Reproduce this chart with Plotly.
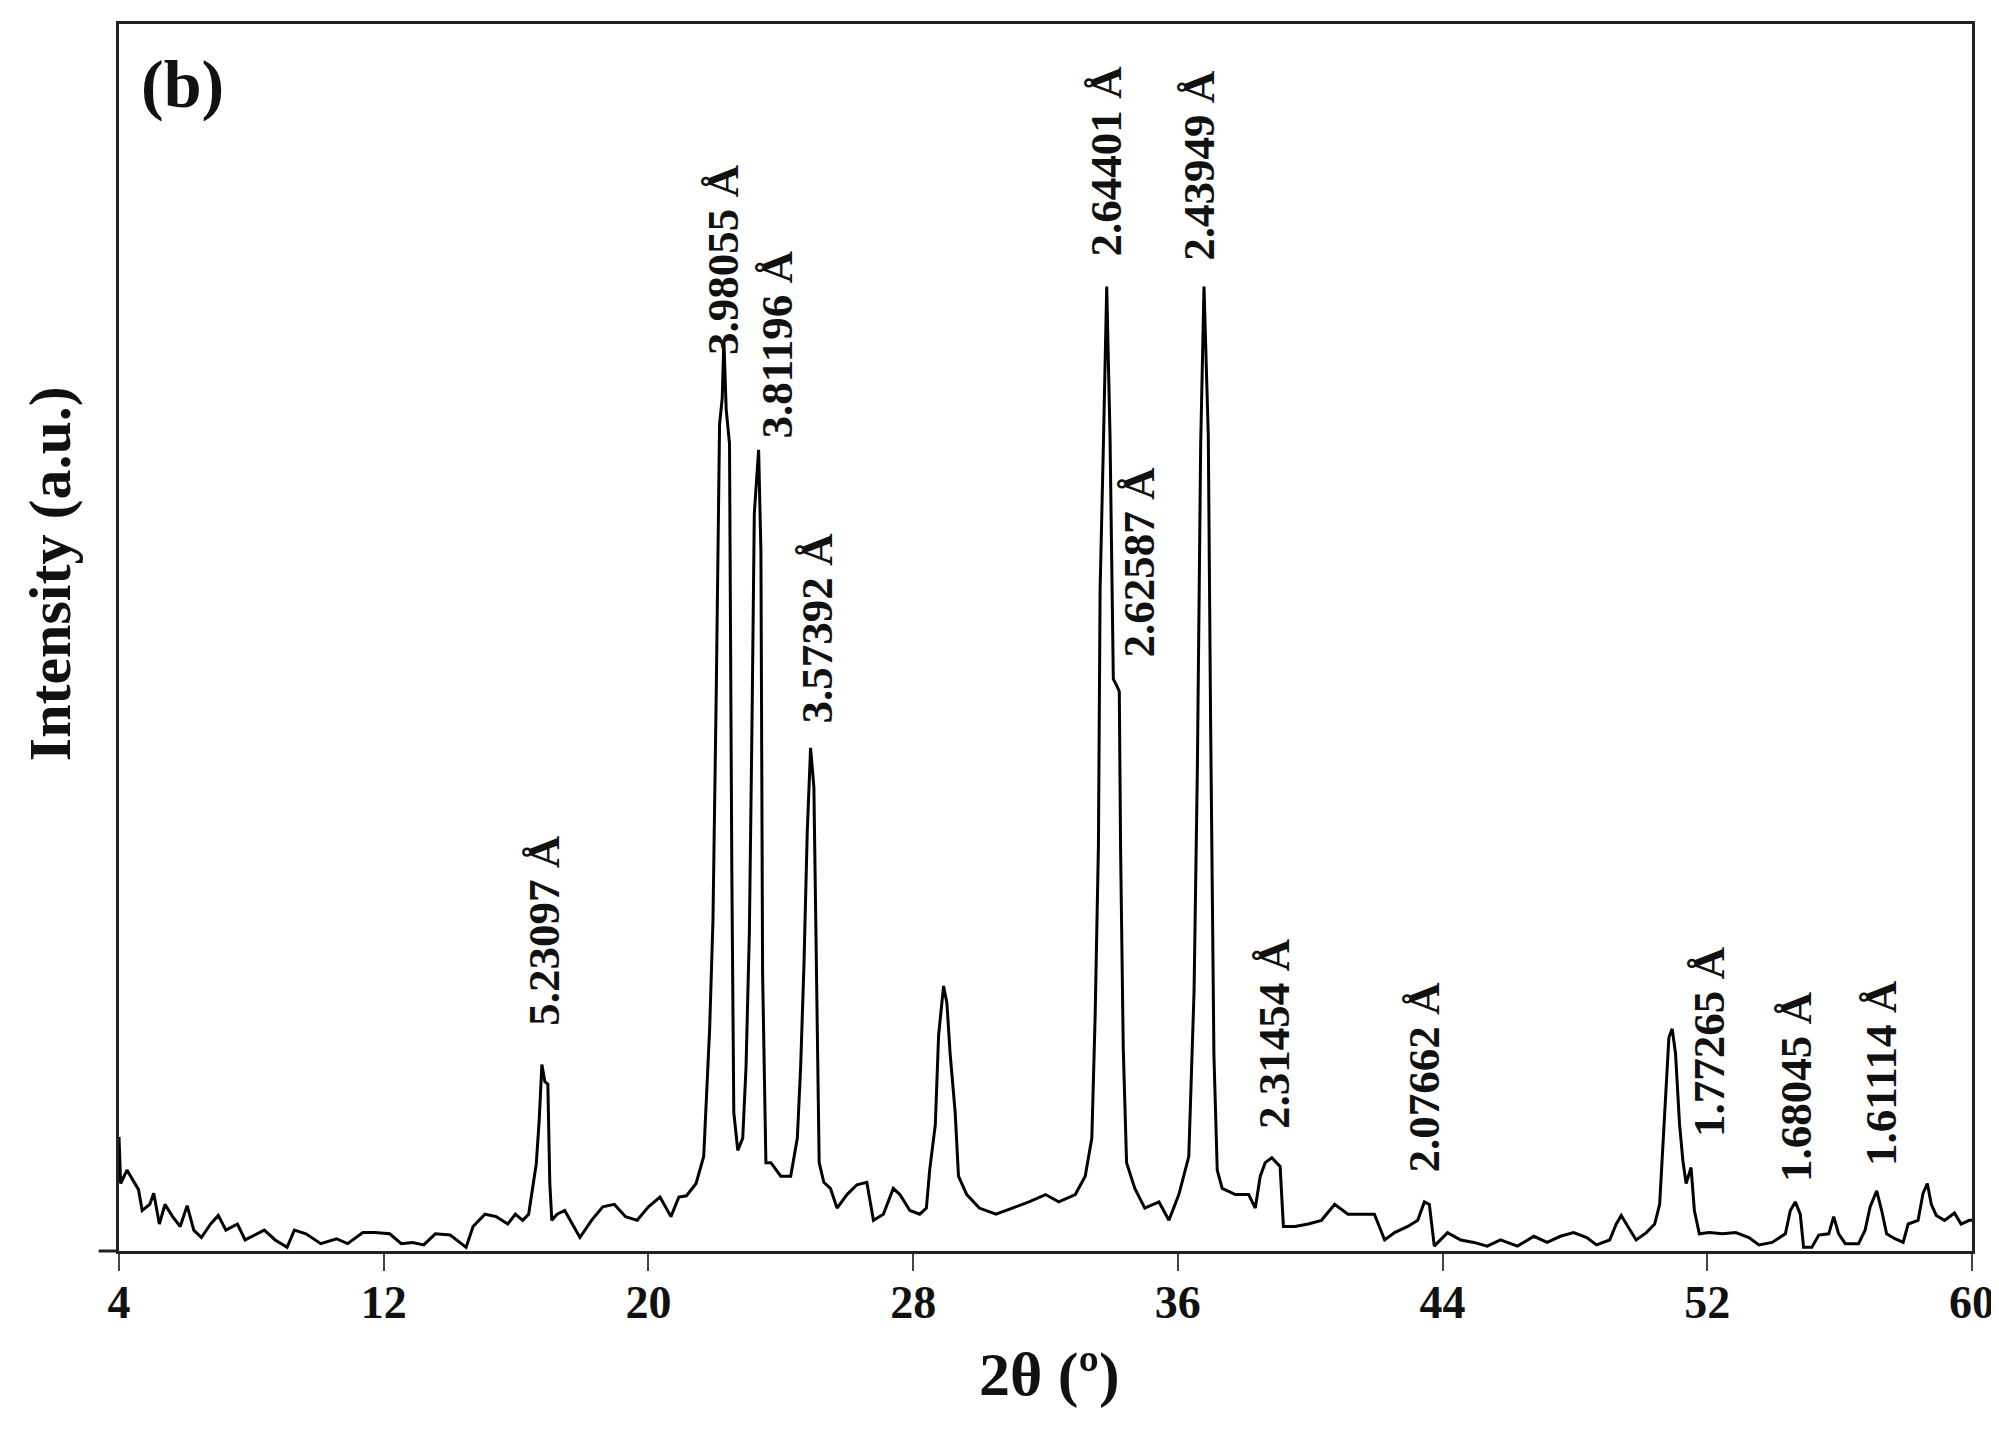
import plotly.graph_objects as go

# --- data (2theta in degrees, intensity as % of axis height) ---
two_theta = [
    4.00, 4.05, 4.24, 4.59, 4.70, 4.93, 5.05, 5.22, 5.39, 5.62, 5.85, 6.06, 6.26, 6.49,
    6.77, 7.00, 7.23, 7.58, 7.81, 8.15, 8.39, 8.72, 9.08, 9.30, 9.65, 10.10, 10.57, 10.91,
    11.37, 11.73, 12.18, 12.53, 12.87, 13.21, 13.56, 14.01, 14.49, 14.70, 15.06, 15.40,
    15.75, 15.98, 16.20, 16.38, 16.49, 16.61, 16.70, 16.78, 16.87, 16.96, 17.02, 17.08,
    17.24, 17.47, 17.70, 17.93, 18.28, 18.62, 18.97, 19.31, 19.66, 20.00, 20.35, 20.68,
    20.92, 21.15, 21.44, 21.67, 21.85, 21.95, 22.05, 22.15, 22.23, 22.28, 22.35, 22.45,
    22.52, 22.58, 22.70, 22.85, 22.95, 23.05, 23.13, 23.20, 23.33, 23.40, 23.45, 23.55,
    23.70, 24.00, 24.30, 24.50, 24.60, 24.70, 24.80, 24.90, 25.00, 25.08, 25.16, 25.30,
    25.50, 25.70, 26.00, 26.30, 26.60, 26.80, 27.10, 27.40, 27.60, 27.90, 28.20, 28.40,
    28.50, 28.67, 28.77, 28.92, 29.02, 29.12, 29.27, 29.37, 29.62, 30.00, 30.50, 31.00,
    31.50, 32.00, 32.40, 32.90, 33.20, 33.40, 33.50, 33.60, 33.65, 33.75, 33.85, 33.95,
    34.05, 34.15, 34.23, 34.27, 34.35, 34.45, 34.70, 35.00, 35.43, 35.73, 36.03, 36.33,
    36.49, 36.59, 36.69, 36.79, 36.92, 36.99, 37.09, 37.19, 37.34, 37.74, 38.14, 38.34,
    38.49, 38.64, 38.84, 39.09, 39.19, 39.54, 39.94, 40.34, 40.74, 41.14, 41.54, 41.94,
    42.25, 42.55, 42.95, 43.25, 43.45, 43.60, 43.75, 44.15, 44.55, 44.95, 45.35, 45.75,
    46.26, 46.76, 47.16, 47.56, 47.96, 48.36, 48.65, 49.05, 49.25, 49.40, 49.60, 49.85,
    50.16, 50.41, 50.56, 50.71, 50.84, 50.94, 51.04, 51.16, 51.26, 51.36, 51.51, 51.61,
    51.76, 52.06, 52.46, 52.86, 53.26, 53.56, 53.96, 54.36, 54.51, 54.66, 54.81, 54.91,
    55.16, 55.37, 55.67, 55.82, 55.97, 56.17, 56.57, 56.77, 56.92, 57.12, 57.27, 57.42,
    57.67, 57.92, 58.07, 58.37, 58.52, 58.65, 58.77, 58.92, 59.17, 59.47, 59.67, 59.92,
    60.00,
]
intensity = [
    9.3, 5.5, 6.6, 5.0, 3.3, 3.8, 4.7, 2.2, 3.8, 2.8, 2.0, 3.7, 1.7, 1.1,
    2.2, 2.9, 1.7, 2.2, 0.9, 1.4, 1.7, 0.9, 0.3, 1.7, 1.4, 0.6, 1.0, 0.6,
    1.5, 1.5, 1.4, 0.6, 0.7, 0.5, 1.4, 1.3, 0.3, 2.0, 3.0, 2.8,
    2.2, 3.0, 2.5, 3.0, 5.0, 7.1, 10.7, 15.2, 13.8, 13.6, 5.5, 2.5,
    3.0, 3.3, 2.2, 1.1, 2.5, 3.6, 3.8, 2.8, 2.5, 3.6, 4.4, 2.8,
    4.4, 4.5, 5.5, 7.7, 18.1, 26.9, 45.6, 67.4, 69.5, 74.2, 68.6, 65.8,
    31.1, 11.3, 8.2, 9.2, 15.0, 25.9, 43.0, 60.1, 65.3, 57.0, 22.7, 7.2,
    7.2, 6.1, 6.1, 9.2, 15.0, 23.3, 34.2, 41.0, 37.8, 20.7, 7.2, 5.6,
    5.1, 3.5, 4.6, 5.4, 5.6, 2.5, 3.0, 5.1, 4.6, 3.3, 3.0, 3.5,
    6.6, 10.3, 17.6, 21.6, 20.2, 16.0, 11.3, 6.1, 4.6, 3.5, 3.0, 3.5,
    4.0, 4.6, 4.0, 4.6, 6.1, 9.2, 19.1, 33.1, 53.9, 65.8, 78.6, 66.4,
    46.6, 46.1, 45.6, 32.6, 16.5, 7.2, 5.1, 3.5, 4.0, 2.5, 4.6, 7.7,
    21.2, 39.4, 65.8, 78.6, 66.4, 43.0, 16.0, 6.6, 5.1, 4.6, 4.6, 3.5,
    6.1, 7.2, 7.6, 6.9, 2.0, 2.0, 2.2, 2.5, 3.8, 3.0, 3.0, 3.0,
    0.9, 1.5, 2.0, 2.5, 4.0, 3.8, 0.4, 1.5, 0.9, 0.7, 0.4, 0.9,
    0.4, 1.2, 0.7, 1.2, 1.5, 1.1, 0.5, 0.9, 2.2, 2.9, 2.0, 0.9,
    1.5, 2.2, 3.8, 10.6, 17.4, 18.1, 16.1, 10.4, 7.4, 5.5, 6.8, 3.3,
    1.4, 1.5, 1.4, 1.5, 1.1, 0.5, 0.7, 1.4, 3.3, 4.0, 3.0, 0.3,
    0.3, 1.3, 1.4, 2.8, 1.4, 0.6, 0.6, 1.7, 3.6, 4.9, 3.3, 1.4,
    1.0, 0.7, 2.2, 2.5, 4.7, 5.5, 3.8, 2.9, 2.5, 3.1, 2.2, 2.5,
    2.5,
]

x_ticks = [4, 12, 20, 28, 36, 44, 52, 60]

d_labels = ["5.23097 Å", "3.98055 Å", "3.81196 Å", "3.57392 Å", "2.64401 Å", "2.62587 Å",
            "2.43949 Å", "2.31454 Å", "2.07662 Å", "1.77265 Å", "1.68045 Å", "1.61114 Å"]

# where each rotated label sits (x of label centre, y of its lower end)
label_x = [16.86, 22.25, 23.87, 25.10, 33.82, 34.84, 36.64, 38.90, 43.44, 52.06, 54.68, 57.23]
label_y = [18.2, 72.9, 66.1, 42.8, 80.9, 48.2, 80.5, 9.8, 6.2, 9.1, 5.5, 6.8]

SERIF = "Liberation Serif"

fig = go.Figure()
fig.add_trace(go.Scatter(x=two_theta, y=intensity, mode="lines",
                         line=dict(color="black", width=3),
                         showlegend=False, hoverinfo="x+y"))

for txt, lx, ly in zip(d_labels, label_x, label_y):
    fig.add_annotation(x=lx, y=ly, xref="x", yref="y", text=txt,
                       textangle=-90, showarrow=False, xanchor="center", yanchor="bottom",
                       font=dict(family=SERIF, size=45, color="#111", weight="bold"))

# panel letter and axis titles
fig.add_annotation(x=0.034, y=0.951, xref="paper", yref="paper", text="(b)",
                   xanchor="center", yanchor="middle", showarrow=False,
                   font=dict(family=SERIF, size=68, color="#111", weight="bold"))
fig.add_annotation(x=-0.0375, y=0.552, xref="paper", yref="paper", text="Intensity (a.u.)",
                   textangle=-90, xanchor="center", yanchor="middle", showarrow=False,
                   font=dict(family=SERIF, size=60, color="#111", weight="bold"))
fig.add_annotation(x=0.502, y=-0.101, xref="paper", yref="paper", text="2θ (º)",
                   xanchor="center", yanchor="middle", showarrow=False,
                   font=dict(family=SERIF, size=62, color="#111", weight="bold"))

# x axis line runs a little past the left frame
fig.add_shape(type="line", xref="paper", yref="paper", x0=-0.011, x1=0, y0=0, y1=0,
              line=dict(color="#222", width=3))

fig.update_xaxes(range=[4, 60], tickvals=x_ticks, ticks="outside", ticklen=17, tickwidth=2,
                 tickcolor="#444", showline=True, linecolor="#222", linewidth=3, mirror=True,
                 showgrid=False, zeroline=False, ticklabelstandoff=-8,
                 tickfont=dict(family=SERIF, size=46, color="#111", weight="bold"))
fig.update_yaxes(range=[0, 100], showticklabels=False, ticks="", showline=True,
                 linecolor="#222", linewidth=3, mirror=True, showgrid=False, zeroline=False)

fig.update_layout(width=1999, height=1443, plot_bgcolor="white", paper_bgcolor="white",
                  margin=dict(l=111, r=25, t=16, b=200))

fig.write_html("out.html")
